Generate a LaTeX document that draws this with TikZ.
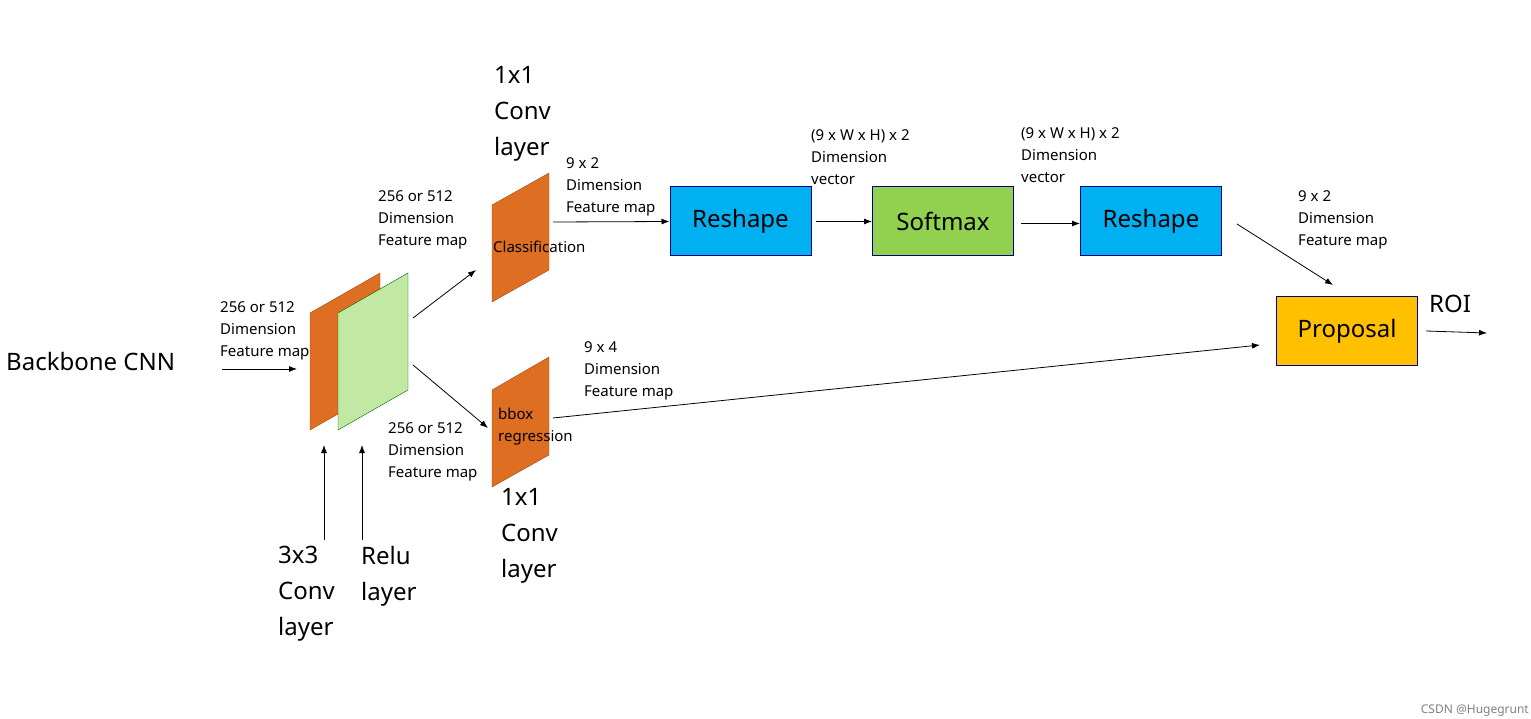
\documentclass[tikz,border=0pt]{standalone}
\usepackage{fontspec}
\setmainfont{Noto Sans}
\usetikzlibrary{arrows.meta}
\begin{document}
\begin{tikzpicture}[x=1pt,y=-1pt,
 sm/.style={anchor=north west,align=left,inner sep=0,font=\fontsize{15}{22}\selectfont},
 lg/.style={anchor=north west,align=left,inner sep=0,font=\fontsize{24}{36}\selectfont},
 arr/.style={-{Latex[length=8pt,width=6pt]},line width=0.8pt},
 box/.style={draw=blue!50!black,line width=1pt,minimum width=141pt,minimum height=69pt,font=\fontsize{24}{28}\selectfont},
 org/.style={fill=orange!80!red!90!black,draw=orange!60!black,fill=orange!85!red},
 ]
\useasboundingbox (0,0) rectangle (1531,719);
\definecolor{org}{HTML}{DE6E22}
\definecolor{grn}{HTML}{C2E9A4}
\draw[fill=org,draw=org!70!black] (310,313) -- (380,273) -- (380,390) -- (310,430) -- cycle;
\draw[fill=grn,draw=green!40!black] (338,313) -- (408,273) -- (408,390) -- (338,430) -- cycle;
\draw[fill=org,draw=org!70!black] (492,205) -- (549,173) -- (549,270) -- (492,302) -- cycle;
\draw[fill=org,draw=org!70!black] (492,390) -- (549,357) -- (549,455) -- (492,487) -- cycle;
\node[box,fill={rgb,255:red,0;green,176;blue,240}] (r1) at (740.5,221.5) {Reshape};
\node[box,fill={rgb,255:red,146;green,208;blue,80}] (sm) at (943,221.5) {Softmax};
\node[box,fill={rgb,255:red,0;green,176;blue,240}] (r2) at (1151,221.5) {Reshape};
\node[box,fill={rgb,255:red,255;green,192;blue,0}] (pr) at (1347,331) {Proposal};
\node[lg] (bb) at (6,352) {Backbone CNN};
\node[sm] (t1) at (220,301) {256 or 512\\Dimension\\Feature map};
\node[sm] (t2) at (378,190) {256 or 512\\Dimension\\Feature map};
\node[sm] (t3) at (388,422) {256 or 512\\Dimension\\Feature map};
\node[sm] (t4) at (566,157) {9 x 2\\Dimension\\Feature map};
\node[sm] (t5) at (584,341) {9 x 4\\Dimension\\Feature map};
\node[sm] (t6) at (811,129) {(9 x W x H) x 2\\Dimension\\vector};
\node[sm] (t7) at (1021,127) {(9 x W x H) x 2\\Dimension\\vector};
\node[sm] (t8) at (1298,190) {9 x 2\\Dimension\\Feature map};
\node[sm] (cl) at (493,241) {Classification};
\node[sm] (br) at (498,408) {bbox\\regression};
\node[lg] (c1) at (494,66) {1x1\\Conv\\layer};
\node[lg] (c2) at (501,488) {1x1\\Conv\\layer};
\node[lg] (c3) at (278,546) {3x3\\Conv\\layer};
\node[lg] (rl) at (361,546) {Relu\\layer};
\node[lg] (roi) at (1429,295) {ROI};
\coordinate (a0) at (222,369); \coordinate (a1) at (297,369);
\coordinate (b0) at (413,318); \coordinate (b1) at (476,270);
\coordinate (c0) at (413,365); \coordinate (c1e) at (488,428);
\coordinate (d0) at (553,222); \coordinate (e0) at (553,418);
\coordinate (f0) at (1237,224); \coordinate (f1) at (1333,285);
\coordinate (g0) at (1260,345);
\coordinate (h1) at (1487,333);
\coordinate (u0) at (324,540); \coordinate (u1) at (324,445);
\coordinate (v0) at (362,540); \coordinate (v1) at (362,445);
\draw[arr] (a0) -- (a1);
\draw[arr] (b0) -- (b1);
\draw[arr] (c0) -- (c1e);
\draw[arr] (d0) -- (r1.west);
\draw[arr] (r1.east) ++(4,0) -- (sm.west);
\draw[arr] ([xshift=7pt,yshift=-2pt]sm.east) -- ([yshift=-2pt]r2.west);
\draw[arr] (f0) -- (f1);
\draw[arr] (e0) -- (g0);
\draw[arr] ([xshift=8pt]pr.east) -- (h1);
\draw[arr] (u0) -- (u1);
\draw[arr] (v0) -- (v1);
\node[anchor=south east,inner sep=2pt,text=gray,font=\fontsize{12}{14}\selectfont] (csdn) at (1531,719) {CSDN @Hugegrunt};
\end{tikzpicture}
\end{document}
